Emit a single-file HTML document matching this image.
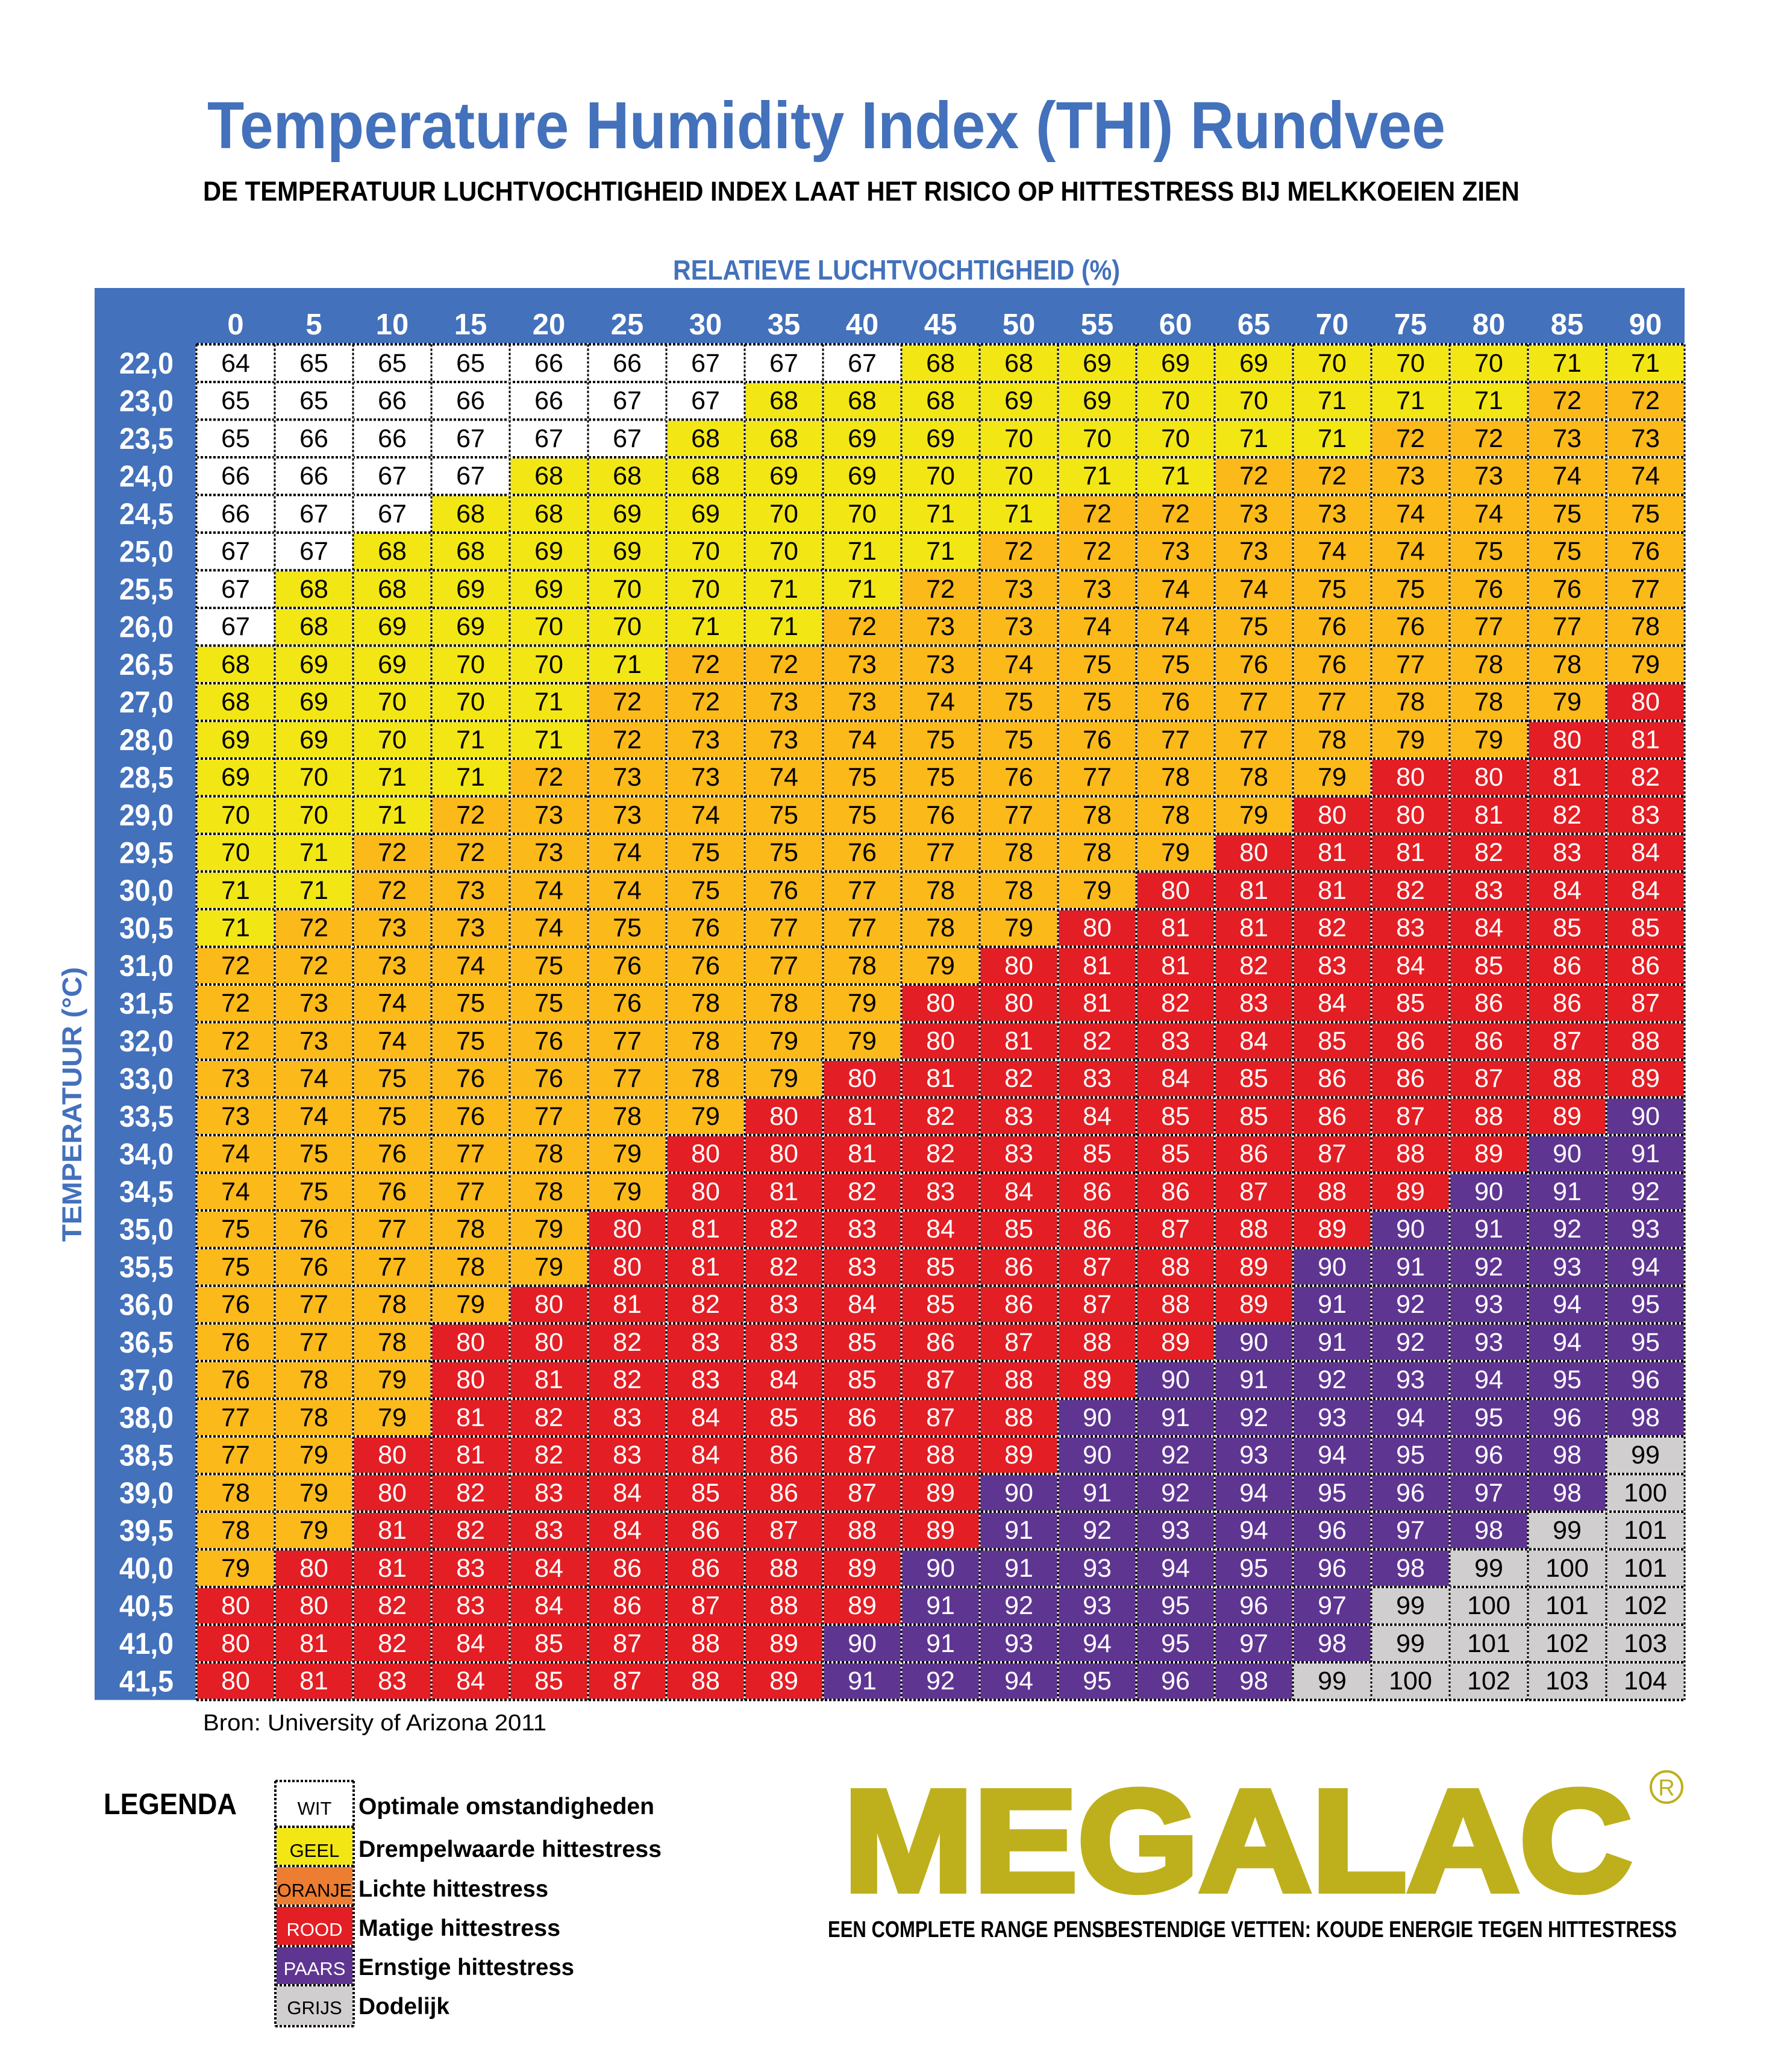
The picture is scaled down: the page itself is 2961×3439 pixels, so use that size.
<!DOCTYPE html>
<html><head><meta charset="utf-8">
<style>
html,body{margin:0;padding:0;background:#fff}
body{width:2961px;height:3439px;position:relative;overflow:hidden;font-family:"Liberation Sans",sans-serif}
#g{position:absolute;left:326px;top:571.5px;display:grid;grid-template-columns:repeat(19,130px);grid-auto-rows:62.5px;font-size:43px;line-height:62.5px;text-align:center;color:#000}
#g>*{display:block}
w{background:#fff}
y{background:#F2E714}
o{background:#FBB91A}
r{background:#E31E24;color:#fff}
v{background:#5F3592;color:#fff}
z{background:#D0CECE}
svg{position:absolute;left:0;top:0}
</style></head><body>
<div id="g">
<w>64</w><w>65</w><w>65</w><w>65</w><w>66</w><w>66</w><w>67</w><w>67</w><w>67</w><y>68</y><y>68</y><y>69</y><y>69</y><y>69</y><y>70</y><y>70</y><y>70</y><y>71</y><y>71</y>
<w>65</w><w>65</w><w>66</w><w>66</w><w>66</w><w>67</w><w>67</w><y>68</y><y>68</y><y>68</y><y>69</y><y>69</y><y>70</y><y>70</y><y>71</y><y>71</y><y>71</y><o>72</o><o>72</o>
<w>65</w><w>66</w><w>66</w><w>67</w><w>67</w><w>67</w><y>68</y><y>68</y><y>69</y><y>69</y><y>70</y><y>70</y><y>70</y><y>71</y><y>71</y><o>72</o><o>72</o><o>73</o><o>73</o>
<w>66</w><w>66</w><w>67</w><w>67</w><y>68</y><y>68</y><y>68</y><y>69</y><y>69</y><y>70</y><y>70</y><y>71</y><y>71</y><o>72</o><o>72</o><o>73</o><o>73</o><o>74</o><o>74</o>
<w>66</w><w>67</w><w>67</w><y>68</y><y>68</y><y>69</y><y>69</y><y>70</y><y>70</y><y>71</y><y>71</y><o>72</o><o>72</o><o>73</o><o>73</o><o>74</o><o>74</o><o>75</o><o>75</o>
<w>67</w><w>67</w><y>68</y><y>68</y><y>69</y><y>69</y><y>70</y><y>70</y><y>71</y><y>71</y><o>72</o><o>72</o><o>73</o><o>73</o><o>74</o><o>74</o><o>75</o><o>75</o><o>76</o>
<w>67</w><y>68</y><y>68</y><y>69</y><y>69</y><y>70</y><y>70</y><y>71</y><y>71</y><o>72</o><o>73</o><o>73</o><o>74</o><o>74</o><o>75</o><o>75</o><o>76</o><o>76</o><o>77</o>
<w>67</w><y>68</y><y>69</y><y>69</y><y>70</y><y>70</y><y>71</y><y>71</y><o>72</o><o>73</o><o>73</o><o>74</o><o>74</o><o>75</o><o>76</o><o>76</o><o>77</o><o>77</o><o>78</o>
<y>68</y><y>69</y><y>69</y><y>70</y><y>70</y><y>71</y><o>72</o><o>72</o><o>73</o><o>73</o><o>74</o><o>75</o><o>75</o><o>76</o><o>76</o><o>77</o><o>78</o><o>78</o><o>79</o>
<y>68</y><y>69</y><y>70</y><y>70</y><y>71</y><o>72</o><o>72</o><o>73</o><o>73</o><o>74</o><o>75</o><o>75</o><o>76</o><o>77</o><o>77</o><o>78</o><o>78</o><o>79</o><r>80</r>
<y>69</y><y>69</y><y>70</y><y>71</y><y>71</y><o>72</o><o>73</o><o>73</o><o>74</o><o>75</o><o>75</o><o>76</o><o>77</o><o>77</o><o>78</o><o>79</o><o>79</o><r>80</r><r>81</r>
<y>69</y><y>70</y><y>71</y><y>71</y><o>72</o><o>73</o><o>73</o><o>74</o><o>75</o><o>75</o><o>76</o><o>77</o><o>78</o><o>78</o><o>79</o><r>80</r><r>80</r><r>81</r><r>82</r>
<y>70</y><y>70</y><y>71</y><o>72</o><o>73</o><o>73</o><o>74</o><o>75</o><o>75</o><o>76</o><o>77</o><o>78</o><o>78</o><o>79</o><r>80</r><r>80</r><r>81</r><r>82</r><r>83</r>
<y>70</y><y>71</y><o>72</o><o>72</o><o>73</o><o>74</o><o>75</o><o>75</o><o>76</o><o>77</o><o>78</o><o>78</o><o>79</o><r>80</r><r>81</r><r>81</r><r>82</r><r>83</r><r>84</r>
<y>71</y><y>71</y><o>72</o><o>73</o><o>74</o><o>74</o><o>75</o><o>76</o><o>77</o><o>78</o><o>78</o><o>79</o><r>80</r><r>81</r><r>81</r><r>82</r><r>83</r><r>84</r><r>84</r>
<y>71</y><o>72</o><o>73</o><o>73</o><o>74</o><o>75</o><o>76</o><o>77</o><o>77</o><o>78</o><o>79</o><r>80</r><r>81</r><r>81</r><r>82</r><r>83</r><r>84</r><r>85</r><r>85</r>
<o>72</o><o>72</o><o>73</o><o>74</o><o>75</o><o>76</o><o>76</o><o>77</o><o>78</o><o>79</o><r>80</r><r>81</r><r>81</r><r>82</r><r>83</r><r>84</r><r>85</r><r>86</r><r>86</r>
<o>72</o><o>73</o><o>74</o><o>75</o><o>75</o><o>76</o><o>78</o><o>78</o><o>79</o><r>80</r><r>80</r><r>81</r><r>82</r><r>83</r><r>84</r><r>85</r><r>86</r><r>86</r><r>87</r>
<o>72</o><o>73</o><o>74</o><o>75</o><o>76</o><o>77</o><o>78</o><o>79</o><o>79</o><r>80</r><r>81</r><r>82</r><r>83</r><r>84</r><r>85</r><r>86</r><r>86</r><r>87</r><r>88</r>
<o>73</o><o>74</o><o>75</o><o>76</o><o>76</o><o>77</o><o>78</o><o>79</o><r>80</r><r>81</r><r>82</r><r>83</r><r>84</r><r>85</r><r>86</r><r>86</r><r>87</r><r>88</r><r>89</r>
<o>73</o><o>74</o><o>75</o><o>76</o><o>77</o><o>78</o><o>79</o><r>80</r><r>81</r><r>82</r><r>83</r><r>84</r><r>85</r><r>85</r><r>86</r><r>87</r><r>88</r><r>89</r><v>90</v>
<o>74</o><o>75</o><o>76</o><o>77</o><o>78</o><o>79</o><r>80</r><r>80</r><r>81</r><r>82</r><r>83</r><r>85</r><r>85</r><r>86</r><r>87</r><r>88</r><r>89</r><v>90</v><v>91</v>
<o>74</o><o>75</o><o>76</o><o>77</o><o>78</o><o>79</o><r>80</r><r>81</r><r>82</r><r>83</r><r>84</r><r>86</r><r>86</r><r>87</r><r>88</r><r>89</r><v>90</v><v>91</v><v>92</v>
<o>75</o><o>76</o><o>77</o><o>78</o><o>79</o><r>80</r><r>81</r><r>82</r><r>83</r><r>84</r><r>85</r><r>86</r><r>87</r><r>88</r><r>89</r><v>90</v><v>91</v><v>92</v><v>93</v>
<o>75</o><o>76</o><o>77</o><o>78</o><o>79</o><r>80</r><r>81</r><r>82</r><r>83</r><r>85</r><r>86</r><r>87</r><r>88</r><r>89</r><v>90</v><v>91</v><v>92</v><v>93</v><v>94</v>
<o>76</o><o>77</o><o>78</o><o>79</o><r>80</r><r>81</r><r>82</r><r>83</r><r>84</r><r>85</r><r>86</r><r>87</r><r>88</r><r>89</r><v>91</v><v>92</v><v>93</v><v>94</v><v>95</v>
<o>76</o><o>77</o><o>78</o><r>80</r><r>80</r><r>82</r><r>83</r><r>83</r><r>85</r><r>86</r><r>87</r><r>88</r><r>89</r><v>90</v><v>91</v><v>92</v><v>93</v><v>94</v><v>95</v>
<o>76</o><o>78</o><o>79</o><r>80</r><r>81</r><r>82</r><r>83</r><r>84</r><r>85</r><r>87</r><r>88</r><r>89</r><v>90</v><v>91</v><v>92</v><v>93</v><v>94</v><v>95</v><v>96</v>
<o>77</o><o>78</o><o>79</o><r>81</r><r>82</r><r>83</r><r>84</r><r>85</r><r>86</r><r>87</r><r>88</r><v>90</v><v>91</v><v>92</v><v>93</v><v>94</v><v>95</v><v>96</v><v>98</v>
<o>77</o><o>79</o><r>80</r><r>81</r><r>82</r><r>83</r><r>84</r><r>86</r><r>87</r><r>88</r><r>89</r><v>90</v><v>92</v><v>93</v><v>94</v><v>95</v><v>96</v><v>98</v><z>99</z>
<o>78</o><o>79</o><r>80</r><r>82</r><r>83</r><r>84</r><r>85</r><r>86</r><r>87</r><r>89</r><v>90</v><v>91</v><v>92</v><v>94</v><v>95</v><v>96</v><v>97</v><v>98</v><z>100</z>
<o>78</o><o>79</o><r>81</r><r>82</r><r>83</r><r>84</r><r>86</r><r>87</r><r>88</r><r>89</r><v>91</v><v>92</v><v>93</v><v>94</v><v>96</v><v>97</v><v>98</v><z>99</z><z>101</z>
<o>79</o><r>80</r><r>81</r><r>83</r><r>84</r><r>86</r><r>86</r><r>88</r><r>89</r><v>90</v><v>91</v><v>93</v><v>94</v><v>95</v><v>96</v><v>98</v><z>99</z><z>100</z><z>101</z>
<r>80</r><r>80</r><r>82</r><r>83</r><r>84</r><r>86</r><r>87</r><r>88</r><r>89</r><v>91</v><v>92</v><v>93</v><v>95</v><v>96</v><v>97</v><z>99</z><z>100</z><z>101</z><z>102</z>
<r>80</r><r>81</r><r>82</r><r>84</r><r>85</r><r>87</r><r>88</r><r>89</r><v>90</v><v>91</v><v>93</v><v>94</v><v>95</v><v>97</v><v>98</v><z>99</z><z>101</z><z>102</z><z>103</z>
<r>80</r><r>81</r><r>83</r><r>84</r><r>85</r><r>87</r><r>88</r><r>89</r><v>91</v><v>92</v><v>94</v><v>95</v><v>96</v><v>98</v><z>99</z><z>100</z><z>102</z><z>103</z><z>104</z>
</div>
<svg width="2961" height="3439" viewBox="0 0 2961 3439" font-family="Liberation Sans, sans-serif">
<path d="M157 478H2796V571.5H326V2821.5H157Z" fill="#4371BB"/>
<text x="344" y="246" font-size="110" font-weight="bold" fill="#4371BB" textLength="2055" lengthAdjust="spacingAndGlyphs">Temperature Humidity Index (THI) Rundvee</text>
<text x="337" y="333" font-size="45" font-weight="bold" fill="#000" textLength="2185" lengthAdjust="spacingAndGlyphs">DE TEMPERATUUR LUCHTVOCHTIGHEID INDEX LAAT HET RISICO OP HITTESTRESS BIJ MELKKOEIEN ZIEN</text>
<text x="1117" y="464" font-size="46" font-weight="bold" fill="#4371BB" textLength="742" lengthAdjust="spacingAndGlyphs">RELATIEVE LUCHTVOCHTIGHEID (%)</text>
<text transform="translate(135 2061) rotate(-90)" font-size="45" font-weight="bold" fill="#4371BB" textLength="456" lengthAdjust="spacingAndGlyphs">TEMPERATUUR (°C)</text>
<g font-size="49" font-weight="bold" fill="#fff" text-anchor="middle">
<text x="391" y="555">0</text><text x="521" y="555">5</text><text x="651" y="555">10</text><text x="781" y="555">15</text><text x="911" y="555">20</text><text x="1041" y="555">25</text><text x="1171" y="555">30</text><text x="1301" y="555">35</text><text x="1431" y="555">40</text><text x="1561" y="555">45</text><text x="1691" y="555">50</text><text x="1821" y="555">55</text><text x="1951" y="555">60</text><text x="2081" y="555">65</text><text x="2211" y="555">70</text><text x="2341" y="555">75</text><text x="2471" y="555">80</text><text x="2601" y="555">85</text><text x="2731" y="555">90</text>
</g>
<g font-size="50" font-weight="bold" fill="#fff" text-anchor="middle">
<text x="243" y="620" textLength="90" lengthAdjust="spacingAndGlyphs">22,0</text>
<text x="243" y="682.5" textLength="90" lengthAdjust="spacingAndGlyphs">23,0</text>
<text x="243" y="745" textLength="90" lengthAdjust="spacingAndGlyphs">23,5</text>
<text x="243" y="807.5" textLength="90" lengthAdjust="spacingAndGlyphs">24,0</text>
<text x="243" y="870" textLength="90" lengthAdjust="spacingAndGlyphs">24,5</text>
<text x="243" y="932.5" textLength="90" lengthAdjust="spacingAndGlyphs">25,0</text>
<text x="243" y="995" textLength="90" lengthAdjust="spacingAndGlyphs">25,5</text>
<text x="243" y="1057.5" textLength="90" lengthAdjust="spacingAndGlyphs">26,0</text>
<text x="243" y="1120" textLength="90" lengthAdjust="spacingAndGlyphs">26,5</text>
<text x="243" y="1182.5" textLength="90" lengthAdjust="spacingAndGlyphs">27,0</text>
<text x="243" y="1245" textLength="90" lengthAdjust="spacingAndGlyphs">28,0</text>
<text x="243" y="1307.5" textLength="90" lengthAdjust="spacingAndGlyphs">28,5</text>
<text x="243" y="1370" textLength="90" lengthAdjust="spacingAndGlyphs">29,0</text>
<text x="243" y="1432.5" textLength="90" lengthAdjust="spacingAndGlyphs">29,5</text>
<text x="243" y="1495" textLength="90" lengthAdjust="spacingAndGlyphs">30,0</text>
<text x="243" y="1557.5" textLength="90" lengthAdjust="spacingAndGlyphs">30,5</text>
<text x="243" y="1620" textLength="90" lengthAdjust="spacingAndGlyphs">31,0</text>
<text x="243" y="1682.5" textLength="90" lengthAdjust="spacingAndGlyphs">31,5</text>
<text x="243" y="1745" textLength="90" lengthAdjust="spacingAndGlyphs">32,0</text>
<text x="243" y="1807.5" textLength="90" lengthAdjust="spacingAndGlyphs">33,0</text>
<text x="243" y="1870" textLength="90" lengthAdjust="spacingAndGlyphs">33,5</text>
<text x="243" y="1932.5" textLength="90" lengthAdjust="spacingAndGlyphs">34,0</text>
<text x="243" y="1995" textLength="90" lengthAdjust="spacingAndGlyphs">34,5</text>
<text x="243" y="2057.5" textLength="90" lengthAdjust="spacingAndGlyphs">35,0</text>
<text x="243" y="2120" textLength="90" lengthAdjust="spacingAndGlyphs">35,5</text>
<text x="243" y="2182.5" textLength="90" lengthAdjust="spacingAndGlyphs">36,0</text>
<text x="243" y="2245" textLength="90" lengthAdjust="spacingAndGlyphs">36,5</text>
<text x="243" y="2307.5" textLength="90" lengthAdjust="spacingAndGlyphs">37,0</text>
<text x="243" y="2370" textLength="90" lengthAdjust="spacingAndGlyphs">38,0</text>
<text x="243" y="2432.5" textLength="90" lengthAdjust="spacingAndGlyphs">38,5</text>
<text x="243" y="2495" textLength="90" lengthAdjust="spacingAndGlyphs">39,0</text>
<text x="243" y="2557.5" textLength="90" lengthAdjust="spacingAndGlyphs">39,5</text>
<text x="243" y="2620" textLength="90" lengthAdjust="spacingAndGlyphs">40,0</text>
<text x="243" y="2682.5" textLength="90" lengthAdjust="spacingAndGlyphs">40,5</text>
<text x="243" y="2745" textLength="90" lengthAdjust="spacingAndGlyphs">41,0</text>
<text x="243" y="2807.5" textLength="90" lengthAdjust="spacingAndGlyphs">41,5</text>
</g>
<g fill="none">
<path stroke="#fff" stroke-width="4" d="M326 571.5h2470m-2470 62.5h2470m-2470 62.5h2470m-2470 62.5h2470m-2470 62.5h2470m-2470 62.5h2470m-2470 62.5h2470m-2470 62.5h2470m-2470 62.5h2470m-2470 62.5h2470m-2470 62.5h2470m-2470 62.5h2470m-2470 62.5h2470m-2470 62.5h2470m-2470 62.5h2470m-2470 62.5h2470m-2470 62.5h2470m-2470 62.5h2470m-2470 62.5h2470m-2470 62.5h2470m-2470 62.5h2470m-2470 62.5h2470m-2470 62.5h2470m-2470 62.5h2470m-2470 62.5h2470m-2470 62.5h2470m-2470 62.5h2470m-2470 62.5h2470m-2470 62.5h2470m-2470 62.5h2470m-2470 62.5h2470m-2470 62.5h2470m-2470 62.5h2470m-2470 62.5h2470m-2470 62.5h2470m-2470 62.5h2470m-2470 62.5h2470"/>
<path stroke="#000" stroke-width="4" stroke-dasharray="4 3" d="M326 571.5h2470m-2470 62.5h2470m-2470 62.5h2470m-2470 62.5h2470m-2470 62.5h2470m-2470 62.5h2470m-2470 62.5h2470m-2470 62.5h2470m-2470 62.5h2470m-2470 62.5h2470m-2470 62.5h2470m-2470 62.5h2470m-2470 62.5h2470m-2470 62.5h2470m-2470 62.5h2470m-2470 62.5h2470m-2470 62.5h2470m-2470 62.5h2470m-2470 62.5h2470m-2470 62.5h2470m-2470 62.5h2470m-2470 62.5h2470m-2470 62.5h2470m-2470 62.5h2470m-2470 62.5h2470m-2470 62.5h2470m-2470 62.5h2470m-2470 62.5h2470m-2470 62.5h2470m-2470 62.5h2470m-2470 62.5h2470m-2470 62.5h2470m-2470 62.5h2470m-2470 62.5h2470m-2470 62.5h2470m-2470 62.5h2470m-2470 62.5h2470"/>
<path stroke="#fff" stroke-width="3" d="M326 571.5v2250m130 -2250v2250m130 -2250v2250m130 -2250v2250m130 -2250v2250m130 -2250v2250m130 -2250v2250m130 -2250v2250m130 -2250v2250m130 -2250v2250m130 -2250v2250m130 -2250v2250m130 -2250v2250m130 -2250v2250m130 -2250v2250m130 -2250v2250m130 -2250v2250m130 -2250v2250m130 -2250v2250m130 -2250v2250"/>
<path stroke="#000" stroke-width="3" stroke-dasharray="4 3" d="M326 571.5v2250m130 -2250v2250m130 -2250v2250m130 -2250v2250m130 -2250v2250m130 -2250v2250m130 -2250v2250m130 -2250v2250m130 -2250v2250m130 -2250v2250m130 -2250v2250m130 -2250v2250m130 -2250v2250m130 -2250v2250m130 -2250v2250m130 -2250v2250m130 -2250v2250m130 -2250v2250m130 -2250v2250m130 -2250v2250"/>
</g>
<text x="337" y="2872" font-size="38" fill="#000" textLength="570" lengthAdjust="spacingAndGlyphs">Bron: University of Arizona 2011</text>
<text x="172" y="3011" font-size="49" font-weight="bold" fill="#000" textLength="221" lengthAdjust="spacingAndGlyphs">LEGENDA</text>
<rect x="457" y="2956" width="130" height="76" fill="#fff"/>
<rect x="457" y="3032" width="130" height="65" fill="#F2E714"/>
<rect x="457" y="3097" width="130" height="66" fill="#ED7D31"/>
<rect x="457" y="3163" width="130" height="67" fill="#E31E24"/>
<rect x="457" y="3230" width="130" height="65" fill="#5F3592"/>
<rect x="457" y="3295" width="130" height="68" fill="#D0CECE"/>
<g fill="none">
<path stroke="#fff" stroke-width="4" d="M457 2956h130M457 3032h130M457 3097h130M457 3163h130M457 3230h130M457 3295h130M457 3363h130M457 2956V3363M587 2956V3363"/>
<path stroke="#000" stroke-width="4" stroke-dasharray="4 3" d="M457 2956h130M457 3032h130M457 3097h130M457 3163h130M457 3230h130M457 3295h130M457 3363h130M457 2956V3363M587 2956V3363"/>
</g>
<g font-size="31" text-anchor="middle">
<text x="522" y="3012" fill="#000">WIT</text>
<text x="522" y="3082" fill="#000">GEEL</text>
<text x="522" y="3148" fill="#000" textLength="124" lengthAdjust="spacingAndGlyphs">ORANJE</text>
<text x="522" y="3213" fill="#fff">ROOD</text>
<text x="522" y="3278" fill="#fff">PAARS</text>
<text x="522" y="3343" fill="#000">GRIJS</text>
</g>
<g font-size="39" font-weight="bold" fill="#000">
<text x="595" y="3011" textLength="491" lengthAdjust="spacingAndGlyphs">Optimale omstandigheden</text>
<text x="595" y="3082" textLength="503" lengthAdjust="spacingAndGlyphs">Drempelwaarde hittestress</text>
<text x="595" y="3148" textLength="315" lengthAdjust="spacingAndGlyphs">Lichte hittestress</text>
<text x="595" y="3213" textLength="335" lengthAdjust="spacingAndGlyphs">Matige hittestress</text>
<text x="595" y="3278" textLength="358" lengthAdjust="spacingAndGlyphs">Ernstige hittestress</text>
<text x="595" y="3343" textLength="151" lengthAdjust="spacingAndGlyphs">Dodelijk</text>
</g>
<text x="1400" y="3138" font-size="240" font-weight="bold" fill="#BDB01C" stroke="#BDB01C" stroke-width="10" textLength="1309" lengthAdjust="spacingAndGlyphs">MEGALAC</text>
<circle cx="2766" cy="2966" r="26" fill="none" stroke="#BDB01C" stroke-width="4"/>
<text x="2766" y="2980" font-size="38" fill="#BDB01C" text-anchor="middle">R</text>
<text x="1374" y="3215" font-size="38" font-weight="bold" fill="#000" textLength="1409" lengthAdjust="spacingAndGlyphs">EEN COMPLETE RANGE PENSBESTENDIGE VETTEN: KOUDE ENERGIE TEGEN HITTESTRESS</text>
</svg>
</body></html>
